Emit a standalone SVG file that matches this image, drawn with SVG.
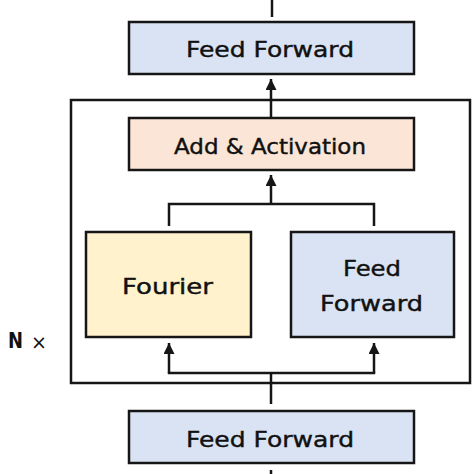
<svg xmlns="http://www.w3.org/2000/svg" width="474" height="474" viewBox="0 0 474 474">
<style>
.box{stroke:#161616;stroke-width:2.5}
.blue{fill:#dae3f3}
.orange{fill:#fbe5d6}
.yellow{fill:#fff2cc}
.t{font-family:"DejaVu Sans","Open Sans",sans-serif;font-size:21px;fill:#111;text-anchor:middle;dominant-baseline:central;stroke:#111;stroke-width:0.4}
.c{fill:none;stroke:#161616;stroke-width:2.5}
</style>
<defs>
<marker id="ah" viewBox="0 0 10 10" refX="10" refY="5" markerWidth="4.4" markerHeight="4.4" orient="auto" markerUnits="strokeWidth">
<path d="M0,0 L10,5 L0,10 z" fill="#161616"/>
</marker>
</defs>
<rect fill="#fff" width="474" height="474"/>
<g id="block">
<rect x="71" y="100" width="399" height="283" fill="none" class="box"/>
</g>
<g id="ff_top">
<rect x="129" y="22" width="285" height="52" class="box blue"/>
<text x="270" y="49.5" class="t" textLength="168" lengthAdjust="spacingAndGlyphs">Feed Forward</text>
</g>
<g id="add_act">
<rect x="129" y="118" width="285" height="52" class="box orange"/>
<text x="270" y="147" class="t" textLength="192" lengthAdjust="spacingAndGlyphs">Add &amp; Activation</text>
</g>
<g id="fourier">
<rect x="86" y="232" width="165" height="105" class="box yellow"/>
<text x="167.5" y="287" class="t" textLength="91" lengthAdjust="spacingAndGlyphs">Fourier</text>
</g>
<g id="ff_mid">
<rect x="291" y="232" width="163" height="105" class="box blue"/>
<text x="372" y="269" class="t" textLength="58" lengthAdjust="spacingAndGlyphs">Feed</text>
<text x="371.5" y="304" class="t" textLength="103" lengthAdjust="spacingAndGlyphs">Forward</text>
</g>
<g id="ff_bottom">
<rect x="129" y="411" width="285" height="52" class="box blue"/>
<text x="270" y="440" class="t" textLength="168" lengthAdjust="spacingAndGlyphs">Feed Forward</text>
</g>
<g id="label">
<text x="8" y="341" font-family="DejaVu Sans,sans-serif" font-size="21" font-weight="bold" fill="#111" dominant-baseline="central" textLength="15" lengthAdjust="spacingAndGlyphs">N</text>
<text x="31" y="342" font-family="DejaVu Sans,sans-serif" font-size="19" fill="#111" dominant-baseline="central">×</text>
</g>
<g id="connectors">
<line x1="272" y1="0" x2="272" y2="17" class="c"/>
<line x1="271" y1="118" x2="271" y2="79" class="c" marker-end="url(#ah)"/>
<line x1="271" y1="204" x2="271" y2="175" class="c" marker-end="url(#ah)"/>
<polyline points="169,226 169,204 374,204 374,226" class="c"/>
<polyline points="271,404 271,373" class="c"/>
<line x1="169" y1="373" x2="169" y2="343" class="c" marker-end="url(#ah)"/>
<line x1="374" y1="373" x2="374" y2="343" class="c" marker-end="url(#ah)"/>
<line x1="167.8" y1="373" x2="375.2" y2="373" class="c"/>
<line x1="271" y1="470" x2="271" y2="474" class="c"/>
</g>
</svg>
